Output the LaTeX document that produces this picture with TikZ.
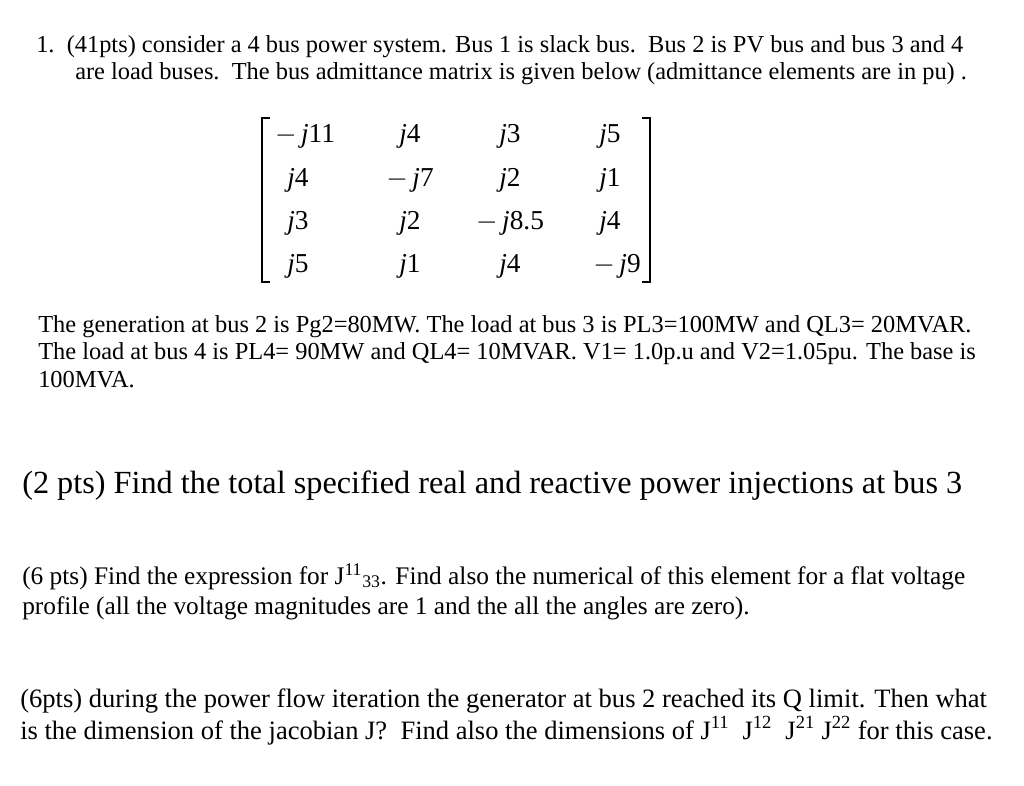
\documentclass[tikz,border=0pt]{standalone}
\usepackage{fontspec}
\setmainfont{Liberation Serif}
\begin{document}
\begin{tikzpicture}[x=0.75pt,y=-0.75pt,
 ln/.style={anchor=base west,inner sep=0pt},
 f1/.style={font=\fontsize{18.3}{20}\selectfont},
 f2/.style={font=\fontsize{24.2}{26}\selectfont},
 f3/.style={font=\fontsize{19}{21}\selectfont},
 f4/.style={font=\fontsize{19.9}{22}\selectfont},
 me/.style={anchor=base,inner sep=0pt,font=\fontsize{20.5}{23}\selectfont}]
\useasboundingbox (0,0) rectangle (1024,785);
\node[ln,f1] (l1) at (36,52) {1.\ \ (41pts)\ consider a 4 bus power system. Bus 1 is slack bus.\ \ Bus 2 is PV bus and bus 3 and 4};
\node[ln,f1] (l2) at (75,79) {are load buses.\ \ The bus admittance matrix is given below (admittance elements are in pu) .};
\node[me] (m11) at (305,142) {$-$\,\textit{j}11};
\node[me] (m12) at (410,142) {\textit{j}4};
\node[me] (m13) at (510,142) {\textit{j}3};
\node[me] (m14) at (610,142) {\textit{j}5};
\node[me] (m21) at (298,186) {\textit{j}4};
\node[me] (m22) at (410,186) {$-$\,\textit{j}7};
\node[me] (m23) at (510,186) {\textit{j}2};
\node[me] (m24) at (610,186) {\textit{j}1};
\node[me] (m31) at (298,229) {\textit{j}3};
\node[me] (m32) at (410,229) {\textit{j}2};
\node[me] (m33) at (510,229) {$-$\,\textit{j}8.5};
\node[me] (m34) at (610,229) {\textit{j}4};
\node[me] (m41) at (298,272) {\textit{j}5};
\node[me] (m42) at (410,272) {\textit{j}1};
\node[me] (m43) at (510,272) {\textit{j}4};
\node[me] (m44) at (617,272) {$-$\,\textit{j}9};
\draw[line width=0.9pt] (270,118) -- (262,118) -- (262,282) -- (270,282);
\draw[line width=0.9pt] (642,118) -- (650,118) -- (650,282) -- (642,282);
\node[ln,f1] (p1) at (38,332) {The generation at bus 2 is Pg2=80MW. The load at bus 3 is PL3=100MW and QL3= 20MVAR.};
\node[ln,f1] (p2) at (38,359) {The load at bus 4 is PL4= 90MW and QL4= 10MVAR. V1= 1.0p.u and V2=1.05pu. The base is};
\node[ln,f1] (p3) at (38,387) {100MVA.};
\node[ln,f2] (q1) at (22,493) {(2 pts) Find the total specified real and reactive power injections at bus 3};
\node[ln,f3] (q2a) at (22,584) {(6 pts) Find the expression for J\textsuperscript{11}\textsubscript{33}. Find also the numerical of this element for a flat voltage};
\node[ln,f3] (q2b) at (22,614) {profile (all the voltage magnitudes are 1 and the all the angles are zero).};
\node[ln,f4] (q3a) at (20,707) {(6pts)\ during the power flow iteration the generator at bus 2 reached its Q limit. Then what};
\node[ln,f4] (q3b) at (20,739) {is the dimension of the jacobian J?\ \ Find also the dimensions of J\textsuperscript{11}\ \ J\textsuperscript{12}\ \ J\textsuperscript{21} J\textsuperscript{22} for this case.};
\end{tikzpicture}
\end{document}
